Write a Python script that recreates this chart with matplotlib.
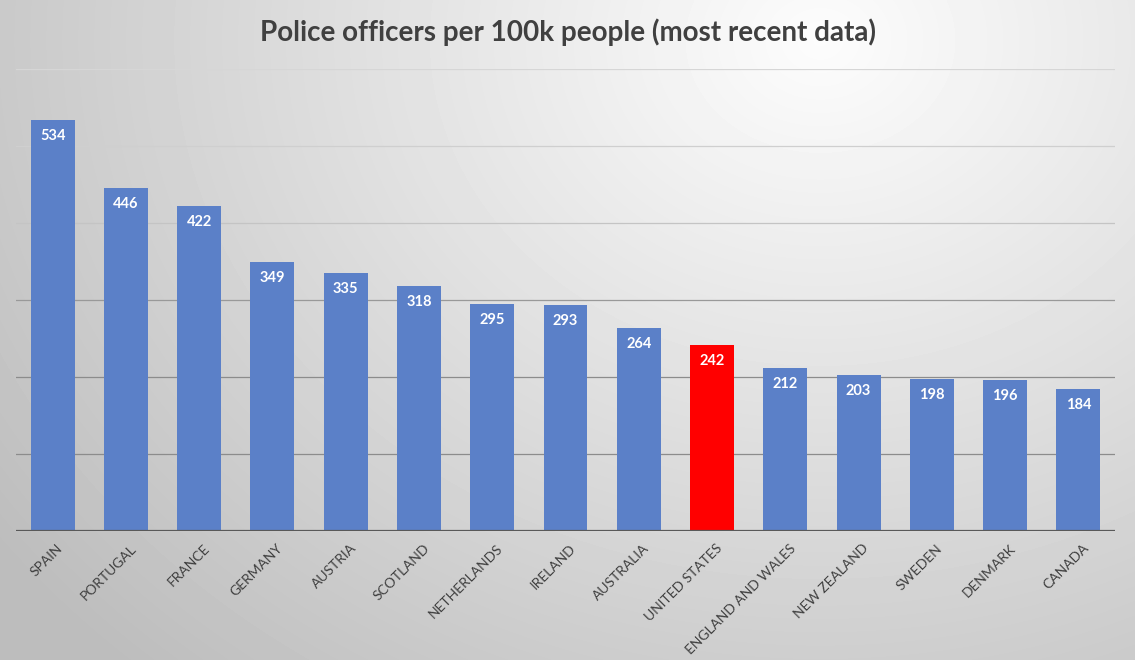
import numpy as np
import matplotlib
matplotlib.use("Agg")
import matplotlib.pyplot as plt
import matplotlib.transforms as mtransforms

# data
countries = ["SPAIN", "PORTUGAL", "FRANCE", "GERMANY", "AUSTRIA", "SCOTLAND",
             "NETHERLANDS", "IRELAND", "AUSTRALIA", "UNITED STATES",
             "ENGLAND AND WALES", "NEW ZEALAND", "SWEDEN", "DENMARK", "CANADA"]
officers = [534, 446, 422, 349, 335, 318, 295, 293, 264, 242, 212, 203, 198, 196, 184]
highlight = "UNITED STATES"

title = "Police officers per 100k people (most recent data)"

blue = "#5B80C8"
red = "#FF0000"
text_col = "#404040"

plt.rcParams['font.family'] = ['Lato', 'DejaVu Sans']

fig = plt.figure(figsize=(11.35, 6.6), dpi=100)

# radial gradient background
bg = fig.add_axes([0, 0, 1, 1], zorder=-10)
W, H = 1135, 660
yy, xx = np.mgrid[0:H, 0:W]
cx, cy = 820, 40
d = np.sqrt(((xx - cx) / 900.0) ** 2 + ((yy - cy) / 750.0) ** 2)
shade = np.clip(0.99 - 0.22 * d, 0.74, 1.0)
bg.imshow(shade, cmap='gray', vmin=0, vmax=1, aspect='auto', extent=[0, W, H, 0])
bg.axis('off')

ax = fig.add_axes([16 / W, 1 - 531 / H, (1115 - 16) / W, (531 - 69) / H])
ax.patch.set_alpha(0)

x = np.arange(len(countries))
colors = [red if c == highlight else blue for c in countries]
bars = ax.bar(x, officers, width=0.6, color=colors, zorder=3)

ax.set_xlim(-0.5, len(countries) - 0.5)
ax.set_ylim(0, 600)

# gridlines, darker towards bottom like the original
grid_cols = ["#8c8c8c", "#8c8c8c", "#999999", "#c4c4c4", "#cfcfcf", "#d6d6d6"]
for i, g in enumerate(range(100, 700, 100)):
    ax.axhline(g, color=grid_cols[i], lw=0.9, zorder=1)
ax.axhline(0, color="#595959", lw=1.6, zorder=4)

for xi, v in zip(x, officers):
    ax.annotate(str(v), (xi, v), xytext=(0, -11.5), textcoords='offset points',
                ha='center', va='center', color='white', fontsize=10.5,
                fontweight='bold', zorder=5)

ax.set_xticks(x)
ax.set_xticklabels(countries, rotation=45, ha='right', rotation_mode='anchor',
                   color=text_col, fontsize=10)
ax.tick_params(axis='x', length=0, pad=8)
# nudge labels a bit right, like the excel chart
shift = mtransforms.ScaledTranslation(4 / 100, 0, fig.dpi_scale_trans)
for lab in ax.get_xticklabels():
    lab.set_transform(lab.get_transform() + shift)
ax.set_yticks([])
for s in ax.spines.values():
    s.set_visible(False)

fig.text(0.5, 1 - 32 / H, title, ha='center', va='center', fontsize=20,
         fontweight='bold', color=text_col)

fig.savefig("out.png", dpi=100)
